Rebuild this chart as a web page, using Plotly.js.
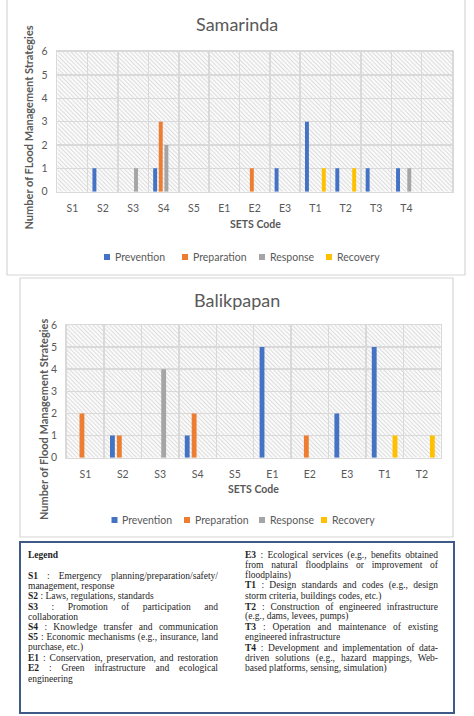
<!DOCTYPE html>
<html>
<head>
<meta charset="utf-8">
<script src="https://cdn.plot.ly/plotly-3.0.1.min.js"></script>
<style>html,body{margin:0;padding:0;background:#fff;}#chart{width:474px;height:716px;}</style>
</head>
<body>
<div id="chart"></div>
<script>
// ---------------- DATA ----------------
const seriesNames = ['Prevention', 'Preparation', 'Response', 'Recovery'];

const samTitle = 'Samarinda';
const samCategories = ['S1','S2','S3','S4','S5','E1','E2','E3','T1','T2','T3','T4'];
const samPrevention  = [0,1,0,1,0,0,0,1,3,1,1,1];
const samPreparation = [0,0,0,3,0,0,1,0,0,0,0,0];
const samResponse    = [0,0,1,2,0,0,0,0,0,0,0,1];
const samRecovery    = [0,0,0,0,0,0,0,0,1,1,0,0];
const samYTitle = 'Number of FLood Management Strategies';

const balTitle = 'Balikpapan';
const balCategories = ['S1','S2','S3','S4','S5','E1','E2','E3','T1','T2'];
const balPrevention  = [0,1,0,1,0,5,0,2,5,0];
const balPreparation = [2,1,0,2,0,0,1,0,0,0];
const balResponse    = [0,0,4,0,0,0,0,0,0,0];
const balRecovery    = [0,0,0,0,0,0,0,0,1,1];
const balYTitle = 'Number of Flood Management Strategies';

const xTitle = 'SETS Code';
const yTicks = [0,1,2,3,4,5,6];

const legendLeftLines = [
  '<b>Legend</b>',
  '',
  '<b>S1</b> : Emergency planning/preparation/safety/',
  'management, response',
  '<b>S2</b> : Laws, regulations, standards',
  '<b>S3</b> : Promotion of participation and',
  'collaboration',
  '<b>S4</b> : Knowledge transfer and communication',
  '<b>S5</b> : Economic mechanisms (e.g., insurance, land',
  'purchase, etc.)',
  '<b>E1</b> : Conservation, preservation, and restoration',
  '<b>E2</b> : Green infrastructure and ecological',
  'engineering'
];
const legendLeftJustify = [false,false,true,false,false,true,false,true,true,false,true,true,false];
const legendRightLines = [
  '<b>E3</b> : Ecological services (e.g., benefits obtained',
  'from natural floodplains or improvement of',
  'floodplains)',
  '<b>T1</b> : Design standards and codes (e.g., design',
  'storm criteria, buildings codes, etc.)',
  '<b>T2</b> : Construction of engineered infrastructure',
  '(e.g., dams, levees, pumps)',
  '<b>T3</b> : Operation and maintenance of existing',
  'engineered infrastructure',
  '<b>T4</b> : Development and implementation of data-',
  'driven solutions (e.g., hazard mappings, Web-',
  'based platforms, sensing, simulation)'
];
const legendRightJustify = [true,true,false,true,false,true,false,true,false,true,true,false];

// ---------------- STYLE ----------------
const colors = ['#4472C4', '#ED7D31', '#A5A5A5', '#FFC000'];
const W = 474, H = 716;
const px = v => v / W;
const py = v => 1 - v / H;
const sansFont = 'Lato, "Open Sans", sans-serif';
const serifFont = '"Liberation Serif", "DejaVu Serif", serif';
const textGray = '#595959';
const gridCol = '#d9d9d9';

function hatchURI(w, h) {
  const svg = "<svg xmlns='http://www.w3.org/2000/svg' width='" + w + "' height='" + h + "' viewBox='0 0 " + w + " " + h + "'>" +
    "<defs><pattern id='p' width='3' height='3' patternUnits='userSpaceOnUse' patternTransform='rotate(-45)'>" +
    "<line x1='0' y1='0' x2='0' y2='3' stroke='#c2c2c2' stroke-width='1'/></pattern></defs>" +
    "<rect width='100%' height='100%' fill='#fafafa'/><rect width='100%' height='100%' fill='url(#p)'/></svg>";
  return 'data:image/svg+xml;charset=utf-8,' + encodeURIComponent(svg);
}

// plot areas (pixels)
const samArea = {l: 57.3, r: 452, t: 51.7, b: 191.7};
const balArea = {l: 66.7, r: 440.7, t: 325, b: 457.7};

const samSeries = [samPrevention, samPreparation, samResponse, samRecovery];
const balSeries = [balPrevention, balPreparation, balResponse, balRecovery];

const traces = [];
samSeries.forEach((vals, i) => {
  traces.push({
    type: 'bar', x: samCategories, y: vals, name: seriesNames[i],
    marker: {color: colors[i]}, xaxis: 'x', yaxis: 'y', showlegend: false
  });
});
balSeries.forEach((vals, i) => {
  traces.push({
    type: 'bar', x: balCategories, y: vals, name: seriesNames[i],
    marker: {color: colors[i]}, xaxis: 'x2', yaxis: 'y2', showlegend: false
  });
});

function xAxis(cats, area, extra) {
  return {
    domain: [px(area.l), px(area.r)],
    type: 'category', categoryorder: 'array', categoryarray: cats,
    range: [-0.5, cats.length - 0.5 + extra],
    tickson: 'boundaries', ticks: '', showgrid: true, gridcolor: gridCol, gridwidth: 1.5,
    showline: true, mirror: true, linecolor: gridCol, linewidth: 1.5, zeroline: false,
    tickfont: {family: sansFont, size: 10.5, color: textGray}, ticklabelstandoff: 6,
    fixedrange: true
  };
}
function yAxis(area) {
  return {
    domain: [py(area.b), py(area.t)],
    range: [0, 6], tickvals: yTicks, ticks: '', showgrid: true, gridcolor: gridCol, gridwidth: 1.5,
    showline: true, mirror: true, linecolor: gridCol, linewidth: 1.5, zeroline: false,
    tickfont: {family: sansFont, size: 10.5, color: textGray}, ticklabelstandoff: 6,
    fixedrange: true
  };
}

const annotations = [
  {text: samTitle, x: px(237), y: py(24), xref: 'paper', yref: 'paper', showarrow: false,
   xanchor: 'center', yanchor: 'middle', font: {family: sansFont, size: 18, color: textGray}},
  {text: balTitle, x: px(237), y: py(300), xref: 'paper', yref: 'paper', showarrow: false,
   xanchor: 'center', yanchor: 'middle', font: {family: sansFont, size: 18, color: textGray}},
  {text: '<b>' + samYTitle + '</b>', x: px(28), y: py(127.5), xref: 'paper', yref: 'paper', showarrow: false,
   textangle: -90, xanchor: 'center', yanchor: 'middle', font: {family: sansFont, size: 11, color: textGray}},
  {text: '<b>' + balYTitle + '</b>', x: px(43), y: py(420), xref: 'paper', yref: 'paper', showarrow: false,
   textangle: -90, xanchor: 'center', yanchor: 'middle', font: {family: sansFont, size: 11, color: textGray}},
  {text: '<b>' + xTitle + '</b>', x: px(255), y: py(224), xref: 'paper', yref: 'paper', showarrow: false,
   xanchor: 'center', yanchor: 'middle', font: {family: sansFont, size: 10.5, color: textGray}},
  {text: '<b>' + xTitle + '</b>', x: px(253), y: py(489), xref: 'paper', yref: 'paper', showarrow: false,
   xanchor: 'center', yanchor: 'middle', font: {family: sansFont, size: 10.5, color: textGray}}
];

const shapes = [
  {type: 'rect', xref: 'paper', yref: 'paper', x0: px(7), x1: px(465), y0: py(275), y1: py(-2),
   line: {color: '#d6d6d6', width: 1.2}, fillcolor: 'rgba(0,0,0,0)', layer: 'below'},
  {type: 'rect', xref: 'paper', yref: 'paper', x0: px(20), x1: px(453), y0: py(537), y1: py(278),
   line: {color: '#d6d6d6', width: 1.2}, fillcolor: 'rgba(0,0,0,0)', layer: 'below'},
  {type: 'rect', xref: 'paper', yref: 'paper', x0: px(20), x1: px(454), y0: py(713), y1: py(542),
   line: {color: '#3e5a86', width: 2}, fillcolor: 'rgba(0,0,0,0)', layer: 'below'}
];

// series legends (Excel style: small square + label)
function addSeriesLegend(squareLefts, yc) {
  seriesNames.forEach((name, i) => {
    const l = squareLefts[i];
    shapes.push({type: 'rect', xref: 'paper', yref: 'paper', x0: px(l), x1: px(l + 6),
      y0: py(yc + 3), y1: py(yc - 3), line: {width: 0}, fillcolor: colors[i]});
    annotations.push({text: name, x: px(l + 8.5), y: py(yc), xref: 'paper', yref: 'paper', showarrow: false,
      xanchor: 'left', yanchor: 'middle', font: {family: sansFont, size: 10.5, color: textGray}});
  });
}
addSeriesLegend([104, 182, 259, 326], 257);
addSeriesLegend([111.5, 184, 259, 321], 520);

const justifyJobs = [];
const lineH = 10.3;
function addColumn(lines, just, left, width, top) {
  lines.forEach((t, i) => {
    if (!t) return;
    const idx = annotations.length;
    annotations.push({
      text: t, x: px(left), y: py(top + i * lineH), xref: 'paper', yref: 'paper', showarrow: false,
      xanchor: 'left', yanchor: 'middle', align: 'left', borderpad: 0,
      font: {family: serifFont, size: 9.5, color: '#1e1e1e'}
    });
    if (just[i]) justifyJobs.push({idx: idx, width: width});
  });
}
addColumn(legendLeftLines, legendLeftJustify, 27, 190, 555);
addColumn(legendRightLines, legendRightJustify, 244, 193, 555);

const images = [samArea, balArea].map(a => ({
  source: hatchURI(Math.round(a.r - a.l), Math.round(a.b - a.t)),
  xref: 'paper', yref: 'paper', x: px(a.l), y: py(a.t),
  sizex: px(a.r) - px(a.l), sizey: py(a.t) - py(a.b),
  xanchor: 'left', yanchor: 'top', sizing: 'stretch', layer: 'below'
}));

const layout = {
  width: W, height: H,
  margin: {l: 0, r: 0, t: 0, b: 0},
  paper_bgcolor: '#ffffff', plot_bgcolor: 'rgba(0,0,0,0)',
  barmode: 'group', bargap: 0.26, bargroupgap: 0.3,
  showlegend: false,
  xaxis: Object.assign(xAxis(samCategories, samArea, 1), {anchor: 'y'}),
  yaxis: Object.assign(yAxis(samArea), {anchor: 'x'}),
  xaxis2: Object.assign(xAxis(balCategories, balArea, 0), {anchor: 'y2'}),
  yaxis2: Object.assign(yAxis(balArea), {anchor: 'x2'}),
  annotations: annotations,
  shapes: shapes,
  images: images
};

Plotly.newPlot('chart', traces, layout, {displayModeBar: false, staticPlot: true}).then(gd => {
  const groups = gd.querySelectorAll('g.annotation');
  justifyJobs.forEach(job => {
    const g = groups[job.idx];
    if (!g) return;
    const txt = g.querySelector('text.annotation-text');
    if (!txt) return;
    const len = txt.getComputedTextLength();
    const spaces = (txt.textContent.match(/ /g) || []).length;
    if (spaces > 0 && len < job.width) {
      txt.setAttribute('word-spacing', ((job.width - len) / spaces).toFixed(2));
    }
  });
});
</script>
</body>
</html>
